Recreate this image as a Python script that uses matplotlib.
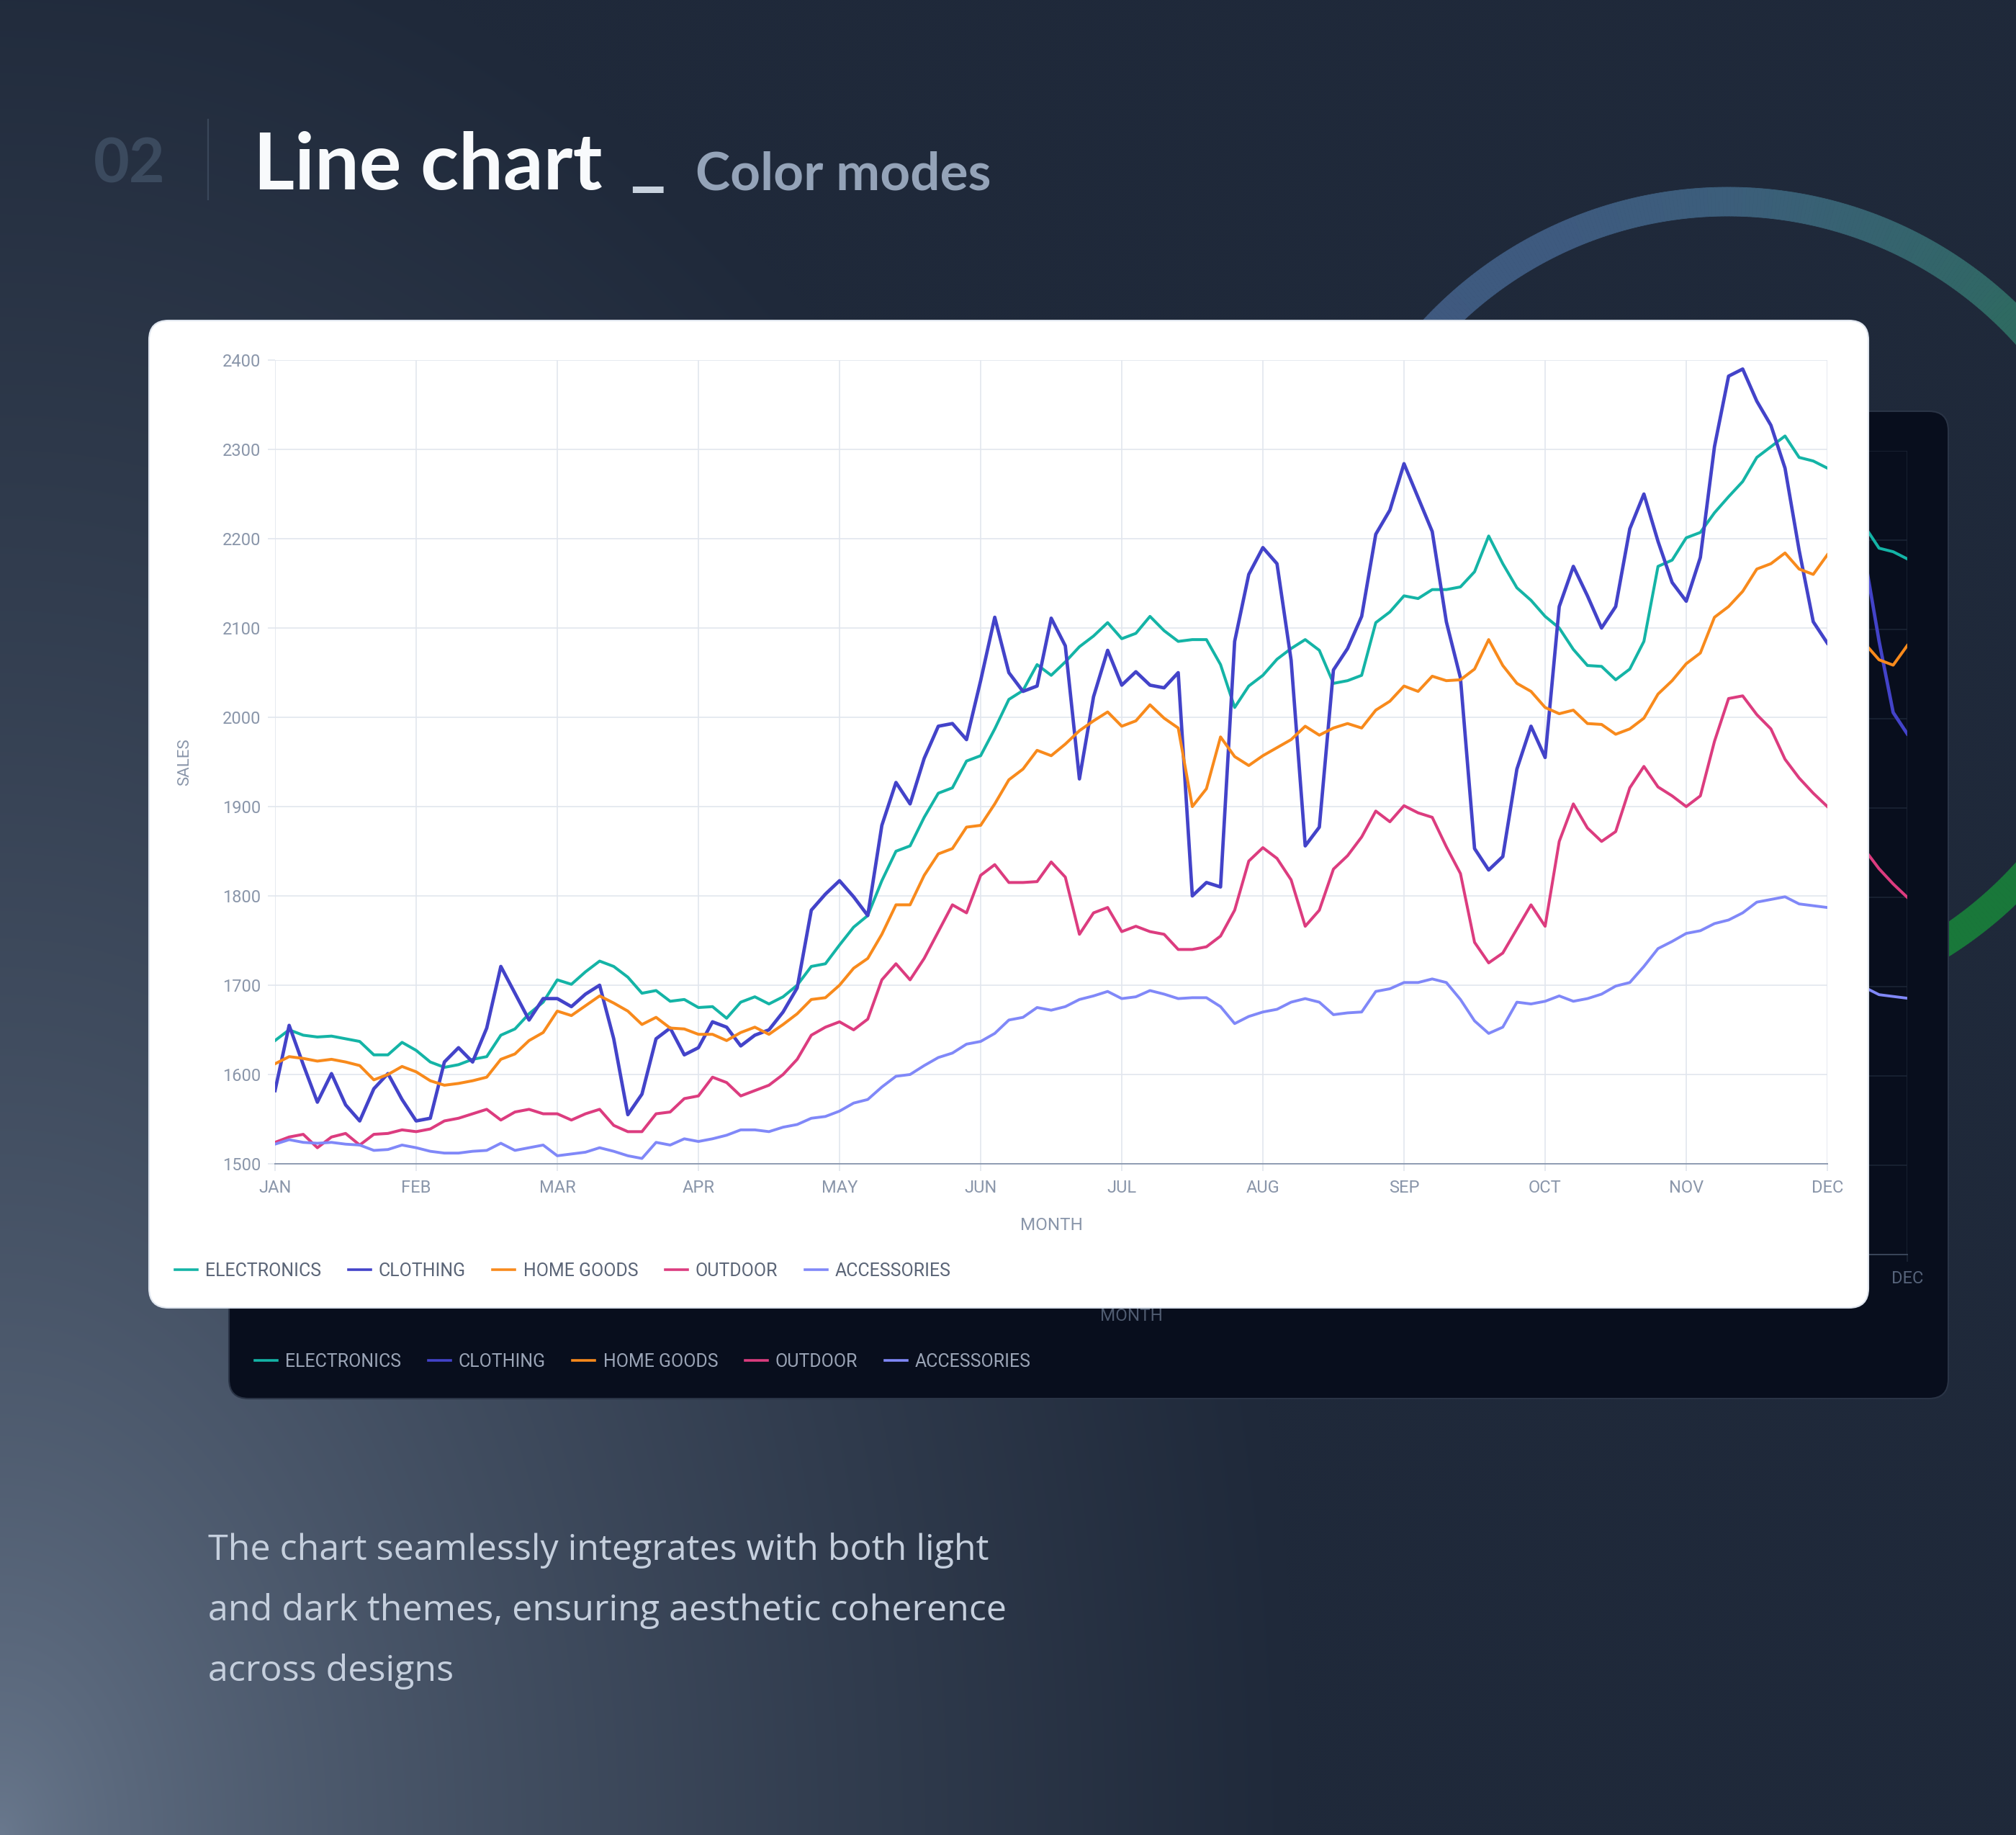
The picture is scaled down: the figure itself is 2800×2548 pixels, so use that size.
import numpy as np
import matplotlib

matplotlib.use("Agg")
import matplotlib.pyplot as plt  # noqa: E402
from matplotlib.patches import FancyBboxPatch  # noqa: E402
from matplotlib.lines import Line2D  # noqa: E402
from matplotlib.collections import PolyCollection  # noqa: E402
from matplotlib.colors import to_rgb  # noqa: E402

W, H = 2800, 2548

# ---------------------------------------------------------------------------
# Data (10 readings per month, JAN .. DEC)
# ---------------------------------------------------------------------------
MONTHS = ["JAN", "FEB", "MAR", "APR", "MAY", "JUN",
          "JUL", "AUG", "SEP", "OCT", "NOV", "DEC"]
STEPS_PER_MONTH = 10
SERIES = ["ELECTRONICS", "CLOTHING", "HOME GOODS", "OUTDOOR", "ACCESSORIES"]

electronics = [
    1638, 1650, 1644, 1642, 1643, 1640, 1637, 1622, 1622, 1636,
    1627, 1614, 1608, 1611, 1617, 1620, 1644, 1651, 1668, 1681,
    1706, 1701, 1715, 1727, 1721, 1709, 1691, 1694, 1682, 1684,
    1675, 1676, 1663, 1681, 1687, 1679, 1687, 1700, 1721, 1724,
    1745, 1765, 1778, 1817, 1850, 1856, 1888, 1915, 1921, 1951,
    1957, 1987, 2020, 2030, 2059, 2047, 2062, 2079, 2091, 2106,
    2088, 2094, 2113, 2097, 2085, 2087, 2087, 2059, 2011, 2035,
    2047, 2065, 2077, 2087, 2075, 2038, 2041, 2047, 2106, 2118,
    2136, 2133, 2143, 2143, 2146, 2163, 2203, 2172, 2145, 2131,
    2113, 2100, 2076, 2058, 2057, 2042, 2054, 2085, 2169, 2176,
    2201, 2207, 2229, 2247, 2264, 2291, 2303, 2315, 2291, 2287,
    2279,
]
clothing = [
    1582, 1655, 1611, 1569, 1601, 1566, 1548, 1584, 1601, 1572,
    1548, 1551, 1614, 1630, 1614, 1652, 1721, 1691, 1661, 1685,
    1685, 1676, 1690, 1700, 1640, 1555, 1578, 1640, 1652, 1622,
    1630, 1659, 1653, 1632, 1644, 1650, 1670, 1697, 1784, 1802,
    1817, 1799, 1778, 1879, 1927, 1903, 1954, 1990, 1993, 1975,
    2041, 2112, 2050, 2029, 2035, 2111, 2080, 1931, 2023, 2075,
    2036, 2051, 2036, 2033, 2050, 1800, 1815, 1810, 2085, 2160,
    2190, 2172, 2064, 1856, 1877, 2053, 2077, 2113, 2205, 2232,
    2284, 2246, 2208, 2107, 2044, 1853, 1829, 1844, 1942, 1990,
    1955, 2124, 2169, 2136, 2100, 2124, 2211, 2250, 2197, 2151,
    2130, 2179, 2303, 2382, 2390, 2354, 2327, 2279, 2187, 2107,
    2083,
]
home_goods = [
    1612, 1620, 1618, 1615, 1617, 1614, 1610, 1594, 1600, 1609,
    1603, 1593, 1588, 1590, 1593, 1597, 1617, 1623, 1638, 1647,
    1671, 1666, 1677, 1688, 1680, 1671, 1656, 1664, 1652, 1651,
    1645, 1645, 1638, 1647, 1653, 1645, 1656, 1668, 1684, 1686,
    1700, 1719, 1730, 1757, 1790, 1790, 1823, 1847, 1853, 1877,
    1879, 1903, 1930, 1942, 1963, 1957, 1970, 1985, 1996, 2006,
    1990, 1996, 2014, 1999, 1988, 1900, 1920, 1978, 1956, 1946,
    1957, 1966, 1975, 1990, 1980, 1988, 1993, 1988, 2008, 2018,
    2035, 2029, 2046, 2041, 2042, 2054, 2087, 2058, 2038, 2029,
    2011, 2004, 2008, 1993, 1992, 1981, 1987, 1999, 2026, 2041,
    2060, 2072, 2112, 2124, 2141, 2166, 2172, 2184, 2166, 2160,
    2182,
]
outdoor = [
    1524, 1530, 1533, 1518, 1530, 1534, 1521, 1533, 1534, 1538,
    1536, 1539, 1548, 1551, 1556, 1561, 1549, 1558, 1561, 1556,
    1556, 1549, 1556, 1561, 1543, 1536, 1536, 1556, 1558, 1573,
    1576, 1597, 1591, 1576, 1582, 1588, 1600, 1617, 1644, 1653,
    1659, 1650, 1662, 1706, 1724, 1706, 1730, 1760, 1790, 1781,
    1823, 1835, 1815, 1815, 1816, 1838, 1821, 1757, 1781, 1787,
    1760, 1766, 1760, 1757, 1740, 1740, 1743, 1755, 1784, 1839,
    1854, 1842, 1818, 1766, 1784, 1830, 1845, 1866, 1895, 1883,
    1901, 1893, 1888, 1855, 1825, 1748, 1725, 1736, 1763, 1790,
    1766, 1861, 1903, 1876, 1861, 1872, 1921, 1945, 1922, 1912,
    1900, 1912, 1973, 2021, 2024, 2003, 1987, 1953, 1932, 1915,
    1900,
]
accessories = [
    1522, 1527, 1524, 1523, 1524, 1522, 1521, 1515, 1516, 1521,
    1518, 1514, 1512, 1512, 1514, 1515, 1523, 1515, 1518, 1521,
    1509, 1511, 1513, 1518, 1514, 1509, 1506, 1524, 1521, 1528,
    1525, 1528, 1532, 1538, 1538, 1536, 1541, 1544, 1551, 1553,
    1559, 1568, 1572, 1586, 1598, 1600, 1610, 1619, 1624, 1634,
    1637, 1646, 1661, 1664, 1675, 1672, 1676, 1684, 1688, 1693,
    1685, 1687, 1694, 1690, 1685, 1686, 1686, 1676, 1657, 1665,
    1670, 1673, 1681, 1685, 1681, 1667, 1669, 1670, 1693, 1696,
    1703, 1703, 1707, 1703, 1684, 1660, 1646, 1653, 1681, 1679,
    1682, 1688, 1682, 1685, 1690, 1699, 1703, 1721, 1741, 1749,
    1758, 1761, 1769, 1773, 1781, 1793, 1796, 1799, 1791, 1789,
    1787,
]

SERIES_VALUES = [electronics, clothing, home_goods, outdoor, accessories]
COLORS = ["#14b4a6", "#4343c9", "#f88a1c", "#dc3c7f", "#8088f8"]
LINE_WIDTHS = [2.9, 3.4, 2.9, 2.9, 2.8]

Y_TICKS = list(range(1500, 2401, 100))

# plot area of the light chart, in pixels
PLOT_X0, PLOT_Y0, PLOT_X1, PLOT_Y1 = 382, 500, 2538, 1616
# dark chart is the same chart shifted by this amount
DARK_SHIFT = (111, 126)

plt.rcParams["font.family"] = ["Roboto", "DejaVu Sans"]


def px_rect(x0, y0, x1, y1):
    return [x0 / W, 1 - y1 / H, (x1 - x0) / W, (y1 - y0) / H]


def fx(x):
    return x / W


def fy(y):
    return 1 - y / H


def draw_chart(fig, dx, dy, dark, z):
    if dark:
        grid_c, axis_c, tick_c, label_c, legend_c = (
            "#1b2435", "#3a465a", "#56637a", "#4f5b70", "#9aa4b6")
    else:
        grid_c, axis_c, tick_c, label_c, legend_c = (
            "#e2e6ee", "#8e9bb2", "#8a96aa", "#8a96aa", "#5b6577")

    ax = fig.add_axes(px_rect(PLOT_X0 + dx, PLOT_Y0 + dy,
                              PLOT_X1 + dx, PLOT_Y1 + dy), zorder=z)
    ax.patch.set_visible(False)

    for vals, col, lw in zip(SERIES_VALUES, COLORS, LINE_WIDTHS):
        xs = np.arange(len(vals)) / STEPS_PER_MONTH
        ax.plot(xs, vals, color=col, lw=lw, solid_joinstyle="round", zorder=3)

    ax.set_xlim(0, len(MONTHS) - 1)
    ax.set_ylim(Y_TICKS[0], Y_TICKS[-1])
    ax.set_xticks(range(len(MONTHS)))
    ax.set_xticklabels(MONTHS)
    ax.set_yticks(Y_TICKS)
    ax.grid(True, color=grid_c, lw=1.2, zorder=0)
    ax.tick_params(axis="both", length=7, width=1.2, color=grid_c,
                   labelsize=17, labelcolor=tick_c)
    ax.tick_params(axis="y", pad=7)
    ax.tick_params(axis="x", pad=9)
    for side in ("top", "left", "right"):
        ax.spines[side].set_visible(False)
    ax.spines["bottom"].set_color(axis_c)
    ax.spines["bottom"].set_linewidth(1.4)

    fig.text(fx(257 + dx), fy(1058 + dy), "SALES", rotation=90,
             ha="center", va="center", fontsize=16, color=label_c, zorder=z)
    fig.text(fx(1460 + dx), fy(1702 + dy), "MONTH",
             ha="center", va="center", fontsize=17.5, color=label_c, zorder=z)

    handles = [Line2D([], [], color=c, lw=2.6) for c in COLORS]
    leg = ax.legend(handles, SERIES, loc="center left",
                    bbox_to_anchor=(fx(243 + dx), fy(1765 + dy)),
                    bbox_transform=fig.transFigure, ncol=5, frameon=False,
                    fontsize=17.9, handlelength=1.25, handletextpad=0.45,
                    columnspacing=1.5, borderpad=0, borderaxespad=0)
    for t in leg.get_texts():
        t.set_color(legend_c)
    return ax


fig = plt.figure(figsize=(W / 100, H / 100), dpi=100)

# ---------------------------------------------------------------------------
# Background layer
# ---------------------------------------------------------------------------
bg = fig.add_axes([0, 0, 1, 1], zorder=0)
bg.set_xlim(0, W)
bg.set_ylim(H, 0)
bg.axis("off")

gh, gw = H // 4, W // 4
yy, xx = np.mgrid[0:gh, 0:gw]
t = np.sqrt((xx * 4 / 1800.0) ** 2 + ((H - yy * 4) / 2700.0) ** 2)
t = np.clip(t, 0, 1) ** 0.65
light = np.array(to_rgb("#6b7a8f"))
dark = np.array(to_rgb("#1f293a"))
grad = light * (1 - t[..., None]) + dark * t[..., None]
bg.imshow(grad, extent=(0, W, H, 0), interpolation="bilinear", zorder=0)

# decorative ring (filled band between two radii, colour varies with angle)
cx, cy, r_in, r_out = 2400, 838, 538, 578
theta = np.linspace(np.radians(-90), np.radians(180), 500)
stops_t = np.radians([-90, -45, 46, 51, 90, 115, 180])
stops_c = [to_rgb(c) for c in ["#18773a", "#19783a", "#2f6a62", "#316766",
                               "#3c5e7b", "#3e5a7f", "#405880"]]
quads, cols = [], []
for a0, a1 in zip(theta[:-1], theta[1:]):
    quads.append([(cx + r_in * np.cos(a0), cy - r_in * np.sin(a0)),
                  (cx + r_out * np.cos(a0), cy - r_out * np.sin(a0)),
                  (cx + r_out * np.cos(a1), cy - r_out * np.sin(a1)),
                  (cx + r_in * np.cos(a1), cy - r_in * np.sin(a1))])
    am = (a0 + a1) / 2
    cols.append([np.interp(am, stops_t, [c[i] for c in stops_c]) for i in range(3)])
bg.add_collection(PolyCollection(quads, facecolors=cols, edgecolors=cols,
                                 linewidths=0.6, zorder=1))

# dark card
dx, dy = DARK_SHIFT
bg.add_patch(FancyBboxPatch((207 + dx, 445 + dy), 2388, 1371,
                            boxstyle="round,pad=0,rounding_size=27",
                            facecolor="#080e1d", edgecolor="#2a3446",
                            lw=1.5, zorder=2))

# title
bg.text(130, 254, "02", fontsize=62, fontweight="bold", color="#3b4a5e",
        family=["Lato", "DejaVu Sans"], va="baseline", ha="left", zorder=3)
bg.plot([289, 289], [166, 277], color="#3a475a", lw=1.6, zorder=3)
bg.text(352, 263, "Line chart", fontsize=79, fontweight="bold", color="#f8fafc",
        family=["Lato", "DejaVu Sans"], va="baseline", ha="left", zorder=3)
bg.text(874, 252, "_", fontsize=78, fontweight="bold", color="#c8d2de",
        family=["Lato", "DejaVu Sans"], va="baseline", ha="left", zorder=3)
bg.text(966, 263, "Color modes", fontsize=52.5, fontweight="bold", color="#94a3b8",
        family=["Lato", "DejaVu Sans"], va="baseline", ha="left", zorder=3)

# body copy
body = ["The chart seamlessly integrates with both light",
        "and dark themes, ensuring aesthetic coherence",
        "across designs"]
for i, line in enumerate(body):
    bg.text(289, 2166 + 84 * i, line, fontsize=36.2, fontweight="normal",
            color="#c5cfdd", family=["Open Sans", "DejaVu Sans"],
            va="baseline", ha="left", zorder=3)

# dark chart
draw_chart(fig, dx, dy, True, 1)

# white card layer
card = fig.add_axes([0, 0, 1, 1], zorder=2)
card.set_xlim(0, W)
card.set_ylim(H, 0)
card.axis("off")
card.add_patch(FancyBboxPatch((207, 445), 2388, 1371,
                              boxstyle="round,pad=0,rounding_size=27",
                              facecolor="#ffffff", edgecolor="#dfe5ee",
                              lw=1.5, zorder=1))

# light chart
draw_chart(fig, 0, 0, False, 3)

fig.savefig("out.png", dpi=100)
